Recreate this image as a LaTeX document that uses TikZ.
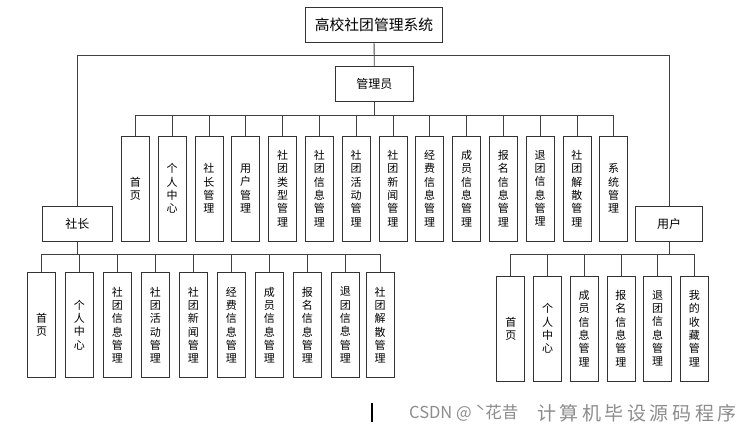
\documentclass[tikz,border=0pt]{standalone}
\usepackage{fontspec}
\newfontfamily\cjk{Noto Sans CJK SC}
\newcommand{\wsp}{\hspace{3.6pt}}
\begin{document}
\begin{tikzpicture}[x=1pt,y=-1pt,
  box/.style={draw=black!80, line width=0.8pt, fill=white, inner sep=0pt},
  hbox/.style={box, font=\cjk\fontsize{12}{14}\selectfont},
  vbox/.style={box, minimum width=28pt, minimum height=105pt, align=center,
    font=\cjk\fontsize{11}{13.3}\selectfont},
  wire/.style={draw=black!75, line width=0.8pt}]
\path[use as bounding box] (0,0) rectangle (748,436);

% main nodes
\node[box, minimum width=137pt, minimum height=35.5pt, font=\cjk\fontsize{14.8}{16}\selectfont] (sys) at (374,25) {高校社团管理系统};
\node[hbox, minimum width=77.3pt, minimum height=35pt] (adm) at (374.3,84.2) {管理员};
\node[hbox, minimum width=70pt, minimum height=35.3pt] (lead) at (77.3,223.6) {社长};
\node[hbox, minimum width=66.3pt, minimum height=35.5pt] (usr) at (669,223.8) {用户};

% admin children
\foreach \t [count=\i from 0] in {首\\页, 个\\人\\中\\心, 社\\长\\管\\理, 用\\户\\管\\理,
  社\\团\\类\\型\\管\\理, 社\\团\\信\\息\\管\\理, 社\\团\\活\\动\\管\\理, 社\\团\\新\\闻\\管\\理,
  经\\费\\信\\息\\管\\理, 成\\员\\信\\息\\管\\理, 报\\名\\信\\息\\管\\理, 退\\团\\信\\息\\管\\理,
  社\\团\\解\\散\\管\\理, 系\\统\\管\\理}
  \node[vbox] (a\i) at ({135.3+36.8*\i},188.5) {\t};

% leader children
\foreach \t/\x [count=\i from 0] in {首\\页/41.7, 个\\人\\中\\心/79.3, 社\\团\\信\\息\\管\\理/117.3,
  社\\团\\活\\动\\管\\理/155.3, 社\\团\\新\\闻\\管\\理/193.3, 经\\费\\信\\息\\管\\理/231.3,
  成\\员\\信\\息\\管\\理/269.3, 报\\名\\信\\息\\管\\理/307.3, 退\\团\\信\\息\\管\\理/345.3,
  社\\团\\解\\散\\管\\理/380}
  \node[vbox, minimum height=104.6pt] (l\i) at (\x,325) {\t};

% user children
\foreach \t/\x [count=\i from 0] in {首\\页/510.8, 个\\人\\中\\心/547.5, 成\\员\\信\\息\\管\\理/584.2,
  报\\名\\信\\息\\管\\理/620.9, 退\\团\\信\\息\\管\\理/657.7, 我\\的\\收\\藏\\管\\理/694.3}
  \node[vbox] (u\i) at (\x,328.5) {\t};

% connectors
\coordinate (top) at (374,55.3);
\coordinate (mbus) at (374.3,115);
\coordinate (lbus) at (77.3,254.3);
\coordinate (ubus) at (669,254.3);

\draw[wire] (sys) -- (adm);
\draw[wire] (lead.north) |- (top) -| (usr.north);
\draw[wire] (adm.south) -- (mbus);
\foreach \i in {0,...,13} \draw[wire] (mbus) -| (a\i.north);
\draw[wire] (lead.south) -- (lbus);
\foreach \i in {0,...,9} \draw[wire] (lbus) -| (l\i.north);
\draw[wire] (usr.south) -- (ubus);
\foreach \i in {0,...,5} \draw[wire] (ubus) -| (u\i.north);

% watermark
\draw[line width=1.6pt] (371.7,403) -- (371.7,421.7);
\node[anchor=west, inner sep=0pt, text=black!45, font=\cjk\fontsize{16.5}{17}\selectfont] (wm1) at (409,413) {CSDN @ ˋ花昔};
\node[anchor=east, inner sep=0pt, text=black!45, font=\cjk\fontsize{19}{20}\selectfont] (wm2) at (737,413) {计\wsp 算\wsp 机\wsp 毕\wsp 设\wsp 源\wsp 码\wsp 程\wsp 序};
\end{tikzpicture}
\end{document}
